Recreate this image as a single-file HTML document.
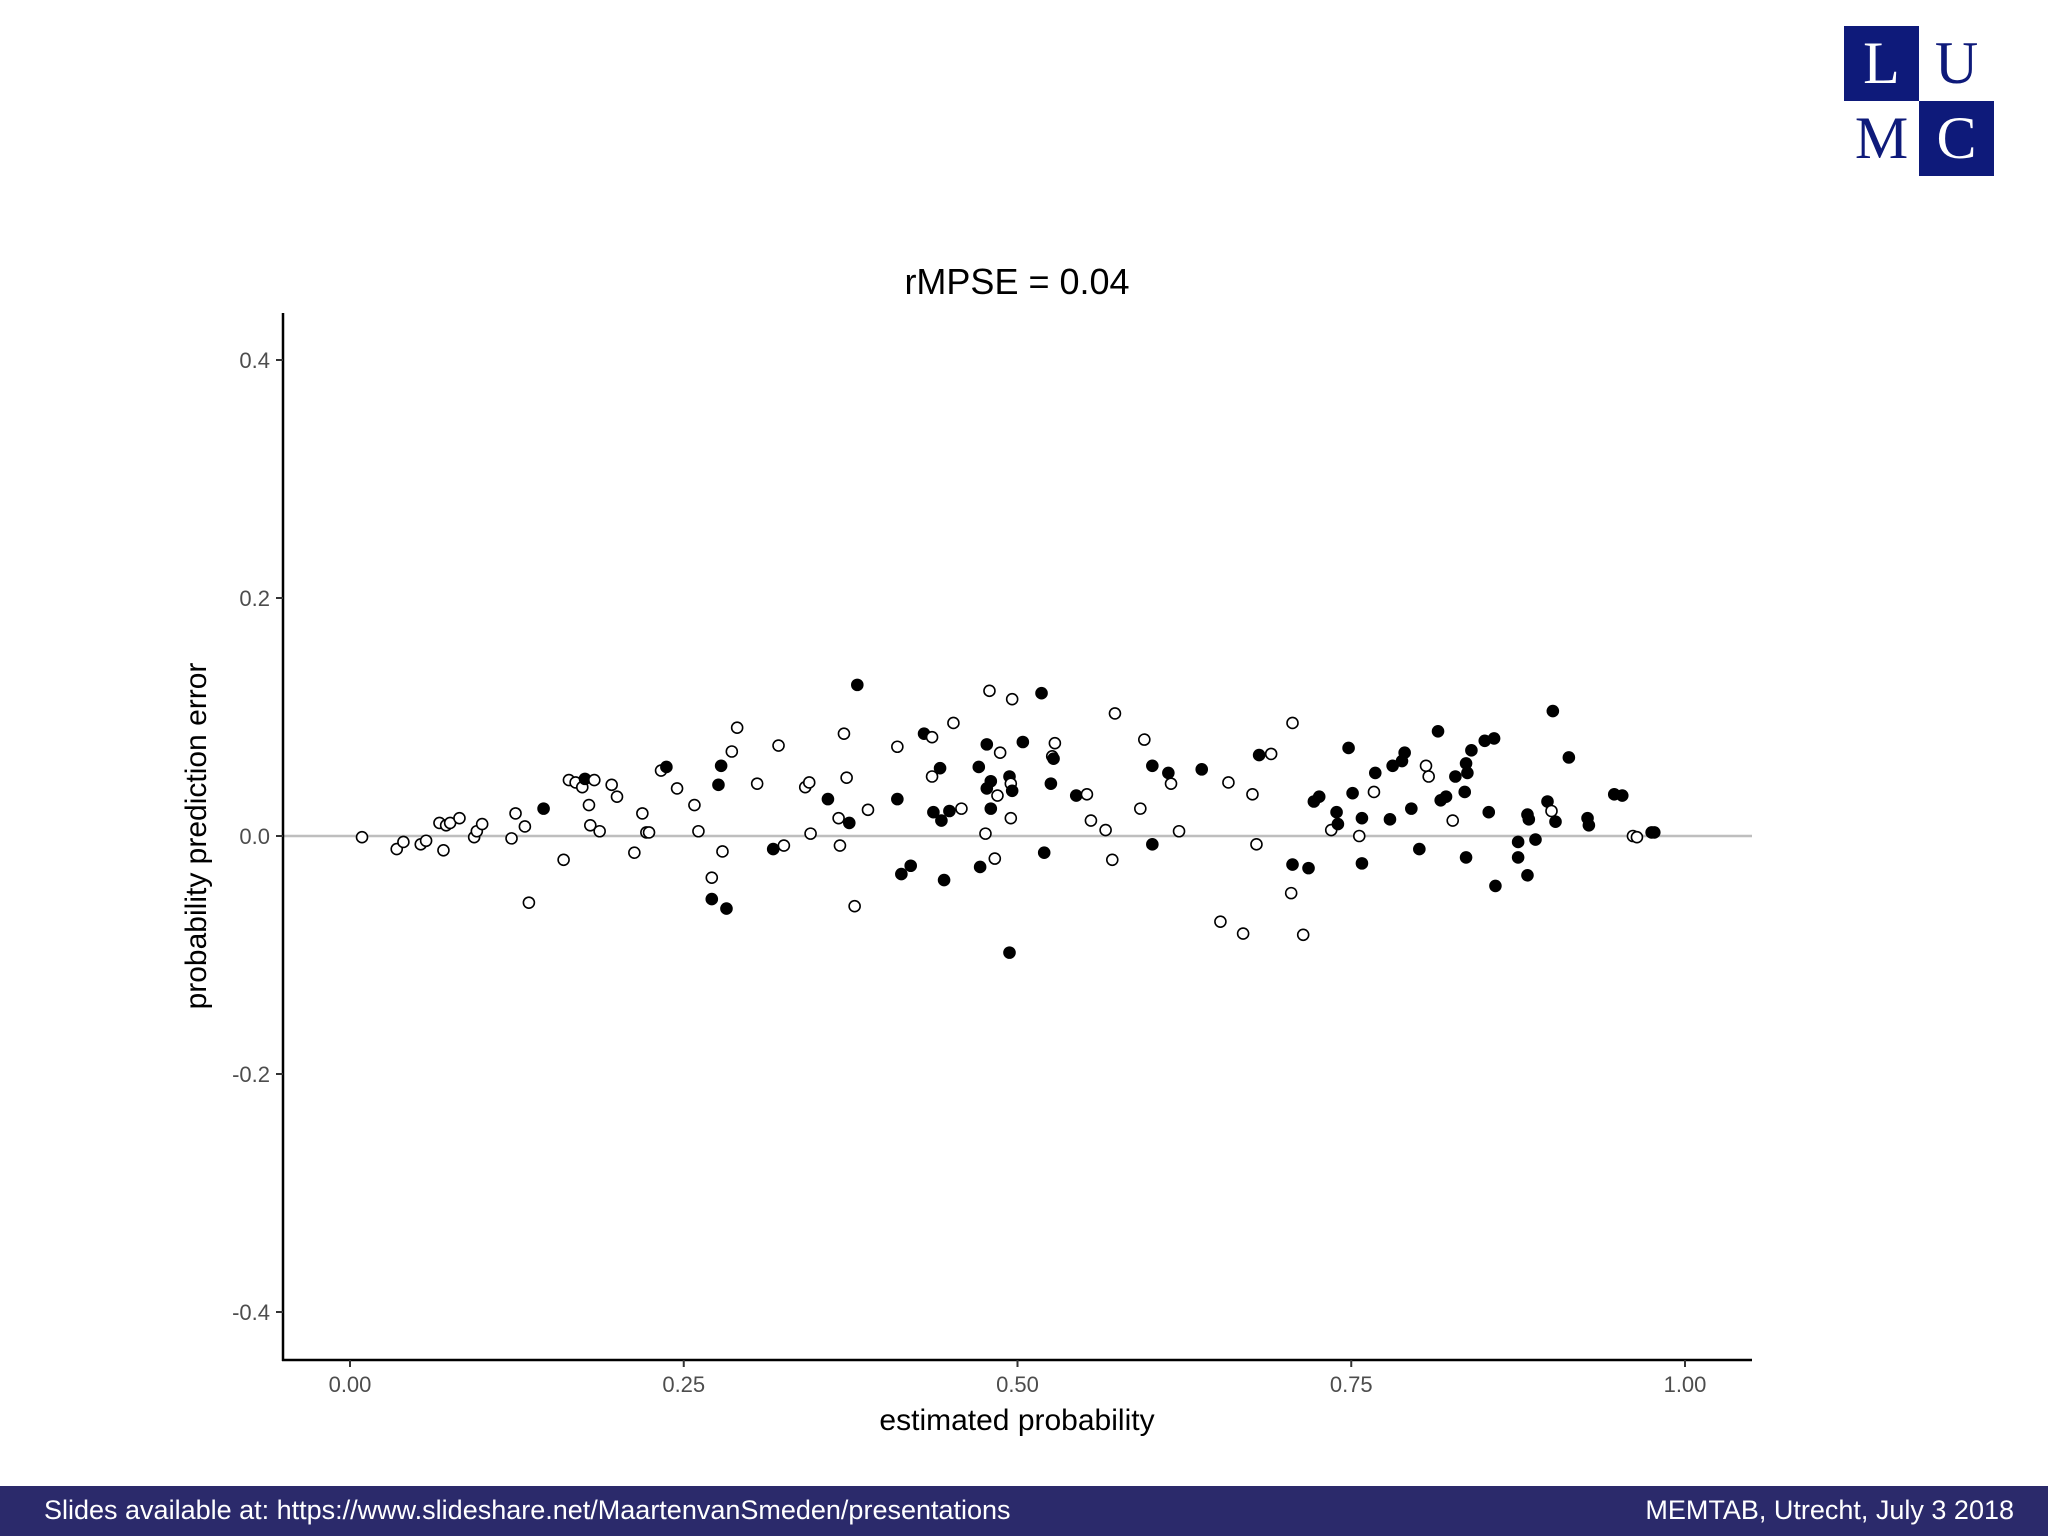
<!DOCTYPE html>
<html><head><meta charset="utf-8"><style>
body{margin:0;width:2048px;height:1536px;background:#fff;overflow:hidden;font-family:"Liberation Sans",sans-serif;}
#chart{position:absolute;left:0;top:0;}
.footer{position:absolute;left:0;top:1486px;width:2048px;height:50px;background:#2b2a6b;color:#fff;font-size:27px;}
.footer span{position:absolute;top:9px;}
.logo div{position:absolute;width:75px;height:75px;font-family:"Liberation Serif",serif;font-size:60px;text-align:center;line-height:75px;}
</style></head><body>
<div class="logo">
<div style="left:1844px;top:26px;background:#0e1a7a;color:#fff">L</div>
<div style="left:1919px;top:26px;background:#fff;color:#0e1a7a">U</div>
<div style="left:1844px;top:101px;background:#fff;color:#0e1a7a">M</div>
<div style="left:1919px;top:101px;background:#0e1a7a;color:#fff">C</div>
</div>
<svg id="chart" width="2048" height="1486"></svg>
<div class="footer">
<span style="left:44px">Slides available at: https://www.slideshare.net/MaartenvanSmeden/presentations</span>
<span style="right:34px">MEMTAB, Utrecht, July 3 2018</span>
</div>
<script>
const xTicks=[0,0.25,0.5,0.75,1];
const xTickLabels=["0.00","0.25","0.50","0.75","1.00"];
const yTicks=[0.4,0.2,0,-0.2,-0.4];
const yTickLabels=["0.4","0.2","0.0","-0.2","-0.4"];
const estProb=[0.009,0.035,0.040,0.053,0.057,0.067,0.070,0.072,0.075,0.082,0.093,0.095,0.099,0.121,0.124,0.131,0.134,0.145,0.160,0.164,0.169,0.174,0.176,0.179,0.180,0.183,0.187,0.196,0.200,0.213,0.219,0.222,0.224,0.233,0.237,0.245,0.258,0.261,0.271,0.271,0.276,0.278,0.279,0.282,0.286,0.290,0.305,0.317,0.321,0.325,0.341,0.344,0.345,0.358,0.366,0.367,0.370,0.372,0.374,0.378,0.380,0.388,0.410,0.410,0.413,0.420,0.430,0.436,0.436,0.437,0.442,0.443,0.445,0.449,0.452,0.458,0.471,0.472,0.476,0.477,0.477,0.479,0.480,0.480,0.483,0.485,0.487,0.494,0.495,0.495,0.496,0.494,0.496,0.504,0.518,0.520,0.525,0.526,0.527,0.528,0.544,0.552,0.555,0.566,0.571,0.573,0.592,0.595,0.601,0.601,0.613,0.615,0.621,0.638,0.652,0.658,0.669,0.676,0.679,0.681,0.690,0.705,0.706,0.706,0.714,0.718,0.722,0.726,0.735,0.739,0.740,0.748,0.751,0.756,0.758,0.758,0.767,0.768,0.779,0.781,0.788,0.790,0.795,0.801,0.806,0.808,0.815,0.817,0.821,0.826,0.828,0.835,0.836,0.836,0.837,0.840,0.850,0.853,0.857,0.858,0.875,0.875,0.882,0.882,0.883,0.888,0.897,0.900,0.901,0.903,0.913,0.927,0.928,0.947,0.953,0.961,0.964,0.975,0.977];
const predError=[-0.001,-0.011,-0.005,-0.007,-0.004,0.011,-0.012,0.009,0.011,0.015,-0.001,0.004,0.010,-0.002,0.019,0.008,-0.056,0.023,-0.020,0.047,0.045,0.041,0.048,0.026,0.009,0.047,0.004,0.043,0.033,-0.014,0.019,0.003,0.003,0.055,0.058,0.040,0.026,0.004,-0.035,-0.053,0.043,0.059,-0.013,-0.061,0.071,0.091,0.044,-0.011,0.076,-0.008,0.041,0.045,0.002,0.031,0.015,-0.008,0.086,0.049,0.011,-0.059,0.127,0.022,0.075,0.031,-0.032,-0.025,0.086,0.083,0.050,0.020,0.057,0.013,-0.037,0.021,0.095,0.023,0.058,-0.026,0.002,0.077,0.040,0.122,0.046,0.023,-0.019,0.034,0.070,0.050,0.015,0.044,0.038,-0.098,0.115,0.079,0.120,-0.014,0.044,0.067,0.065,0.078,0.034,0.035,0.013,0.005,-0.020,0.103,0.023,0.081,0.059,-0.007,0.053,0.044,0.004,0.056,-0.072,0.045,-0.082,0.035,-0.007,0.068,0.069,-0.048,0.095,-0.024,-0.083,-0.027,0.029,0.033,0.005,0.020,0.010,0.074,0.036,0.000,0.015,-0.023,0.037,0.053,0.014,0.059,0.063,0.070,0.023,-0.011,0.059,0.050,0.088,0.030,0.033,0.013,0.050,0.037,-0.018,0.061,0.053,0.072,0.080,0.020,0.082,-0.042,-0.005,-0.018,0.018,-0.033,0.014,-0.003,0.029,0.021,0.105,0.012,0.066,0.015,0.009,0.035,0.034,0.000,-0.001,0.003,0.003];
const outcome=[
0,0,0,0,0,0,0,0,0,0,
0,0,0,0,0,0,0,1,0,0,
0,0,1,0,0,0,0,0,0,0,
0,0,0,0,1,0,0,0,0,1,
1,1,0,1,0,0,0,1,0,0,
0,0,0,1,0,0,0,0,1,0,
1,0,0,1,1,1,1,0,0,1,
1,1,1,1,0,0,1,1,0,1,
1,0,1,1,0,0,0,1,0,0,
1,1,0,1,1,1,1,0,1,0,
1,0,0,0,0,0,0,0,1,1,
1,0,0,1,0,0,0,0,0,1,
0,0,0,1,0,1,1,1,0,1,
1,1,1,0,1,1,0,1,1,1,
1,1,1,1,0,0,1,1,1,0,
1,1,1,1,1,1,1,1,1,1,
1,1,1,1,1,1,1,0,1,1,
1,1,1,1,1,0,0,1,1];
</script>
<script>
const svg=document.getElementById('chart');const NS="http://www.w3.org/2000/svg";
const X=v=>350+v*1335, Y=v=>836-v*1190;
function mk(t,a,txt){const e=document.createElementNS(NS,t);for(const k in a)e.setAttribute(k,a[k]);if(txt!==undefined)e.textContent=txt;svg.appendChild(e);return e;}
let e;
e=mk('text',{x:1017,y:294,'text-anchor':'middle','font-size':36,fill:'#000'},'rMPSE = 0.04');


e=mk('line',{x1:283,y1:836,x2:1752,y2:836,stroke:'#bebebe','stroke-width':2.5});


e=mk('line',{x1:283,y1:313,x2:283,y2:1361,stroke:'#000','stroke-width':2.5});


e=mk('line',{x1:282,y1:1360,x2:1752,y2:1360,stroke:'#000','stroke-width':2.5});


xTicks.forEach((v,i)=>{
 e=mk('line',{x1:X(v),y1:1360,x2:X(v),y2:1367,stroke:'#333','stroke-width':2});
 
 
 e=mk('text',{x:X(v),y:1392,'text-anchor':'middle','font-size':22,fill:'#4d4d4d'},xTickLabels[i]);
 
 
});
yTicks.forEach((v,i)=>{
 e=mk('line',{x1:276,y1:Y(v),x2:283,y2:Y(v),stroke:'#333','stroke-width':2});
 
 
 e=mk('text',{x:270,y:Y(v)+8,'text-anchor':'end','font-size':22,fill:'#4d4d4d'},yTickLabels[i]);
 
 
});
e=mk('text',{x:1017,y:1430,'text-anchor':'middle','font-size':30,fill:'#000'},'estimated probability');


e=mk('text',{x:206,y:836,'text-anchor':'middle','font-size':30,fill:'#000',transform:'rotate(-90 206 836)'},'probability prediction error');


estProb.forEach((v,i)=>{
 const f=outcome[i]===1;
 e=mk('circle',{cx:X(v),cy:Y(predError[i]),r:5.5,fill:f?'#000':'#fff',stroke:'#000','stroke-width':1.6});
 
 
});
</script>
</body></html>
